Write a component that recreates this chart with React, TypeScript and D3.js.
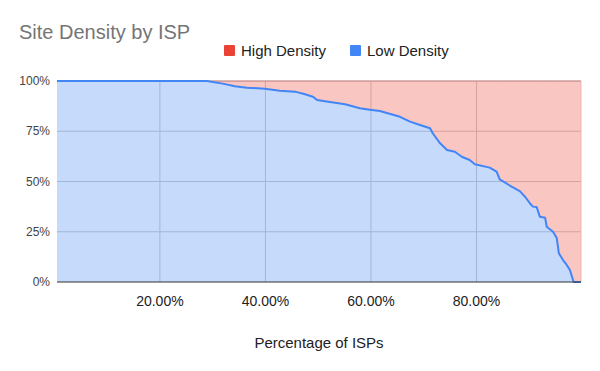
import { useEffect, useRef } from 'react'
import * as d3 from 'd3'

// share of ISPs (sorted) vs share of sites that are low density
const ispShare = [
  0.005, 0.289, 0.319, 0.342, 0.365, 0.399, 0.427, 0.456, 0.475, 0.490,
  0.498, 0.522, 0.551, 0.579, 0.598, 0.617, 0.655, 0.674, 0.693, 0.712,
  0.717, 0.731, 0.744, 0.759, 0.772, 0.787, 0.797, 0.825, 0.838, 0.844,
  0.863, 0.882, 0.892, 0.901, 0.907, 0.914, 0.920, 0.930, 0.933, 0.945,
  0.952, 0.956, 0.964, 0.971, 0.977, 0.984, 0.998,
]
const lowDensity = [
  1.000, 1.000, 0.987, 0.974, 0.967, 0.962, 0.952, 0.947, 0.934, 0.922,
  0.905, 0.896, 0.884, 0.864, 0.857, 0.851, 0.822, 0.798, 0.781, 0.765,
  0.740, 0.690, 0.657, 0.648, 0.623, 0.607, 0.586, 0.569, 0.549, 0.511,
  0.480, 0.452, 0.424, 0.392, 0.375, 0.373, 0.325, 0.320, 0.275, 0.250,
  0.219, 0.143, 0.109, 0.085, 0.060, 0.000, 0.000,
]
const xTicks = [0.2, 0.4, 0.6, 0.8]
const yTicks = [0, 0.25, 0.5, 0.75, 1]
const series = [
  { name: 'High Density', color: '#ea4335' },
  { name: 'Low Density', color: '#4285f4' },
]

const FONT = '"Liberation Sans", Arial, sans-serif'

export default function App() {
  const ref = useRef<SVGSVGElement>(null)

  useEffect(() => {
    const W = 600, H = 371
    const m = { top: 81, right: 19, bottom: 89, left: 57 }
    const iW = W - m.left - m.right
    const iH = H - m.top - m.bottom

    const svg = d3.select(ref.current)
    svg.selectAll('*').remove()
    svg.append('rect').attr('width', W).attr('height', H).attr('fill', '#fff')

    const data = ispShare.map((x, i) => ({ x, y: lowDensity[i] }))
    const x = d3.scaleLinear().domain(d3.extent(ispShare) as [number, number]).range([0, iW])
    const y = d3.scaleLinear().domain([0, 1]).range([iH, 0])

    const g = svg.append('g').attr('transform', `translate(${m.left},${m.top})`)

    // grid
    g.append('g').selectAll('line').data(yTicks.filter(t => t > 0)).join('line')
      .attr('x1', 0).attr('x2', iW).attr('y1', d => y(d)).attr('y2', d => y(d))
      .attr('stroke', '#cccccc')
    g.append('g').selectAll('line').data(xTicks).join('line')
      .attr('x1', d => x(d)).attr('x2', d => x(d)).attr('y1', 0).attr('y2', iH)
      .attr('stroke', '#cccccc')

    // stacked areas
    const lowArea = d3.area<{ x: number; y: number }>()
      .x(d => x(d.x)).y0(iH).y1(d => y(d.y))
    const highArea = d3.area<{ x: number; y: number }>()
      .x(d => x(d.x)).y0(d => y(d.y)).y1(y(1))
    g.append('path').datum(data).attr('d', highArea)
      .attr('fill', series[0].color).attr('fill-opacity', 0.3)
    g.append('path').datum(data).attr('d', lowArea)
      .attr('fill', series[1].color).attr('fill-opacity', 0.3)

    // series lines
    g.append('path').datum(data)
      .attr('d', d3.line<{ x: number; y: number }>().x(d => x(d.x)).y(() => y(1)))
      .attr('fill', 'none').attr('stroke', '#c98a8a').attr('stroke-width', 1)
    g.append('path').datum(data)
      .attr('d', d3.line<{ x: number; y: number }>().x(d => x(d.x)).y(d => y(d.y)))
      .attr('fill', 'none').attr('stroke', series[1].color).attr('stroke-width', 2)
      .attr('stroke-linejoin', 'round')

    // right edge of plot
    g.append('line').attr('x1', iW).attr('x2', iW).attr('y1', 0).attr('y2', iH)
      .attr('stroke', '#e6b8b5')

    // baseline
    g.append('line').attr('x1', 0).attr('x2', iW).attr('y1', iH).attr('y2', iH)
      .attr('stroke', '#333333')

    // tick labels
    g.append('g').selectAll('text').data(yTicks).join('text')
      .attr('x', -7).attr('y', d => y(d)).attr('dy', '0.35em')
      .attr('text-anchor', 'end').attr('fill', '#444444')
      .attr('font-size', 12).attr('font-family', FONT)
      .text(d => d3.format('.0%')(d))
    g.append('g').selectAll('text').data(xTicks).join('text')
      .attr('x', d => x(d)).attr('y', iH + 24)
      .attr('text-anchor', 'middle').attr('fill', '#222222')
      .attr('font-size', 14).attr('font-family', FONT)
      .text(d => d3.format('.2%')(d))

    // axis title
    svg.append('text')
      .attr('x', m.left + iW / 2).attr('y', 348)
      .attr('text-anchor', 'middle').attr('fill', '#222222')
      .attr('font-size', 15).attr('font-family', FONT)
      .text('Percentage of ISPs')

    // title
    svg.append('text')
      .attr('x', 19).attr('y', 39)
      .attr('fill', '#757575').attr('font-size', 20).attr('font-family', FONT)
      .text('Site Density by ISP')

    // legend
    const leg = svg.append('g').attr('transform', 'translate(224,45)')
    const items = leg.selectAll('g').data(series).join('g')
      .attr('transform', (_, i) => `translate(${i * 126},0)`)
    items.append('rect').attr('width', 11).attr('height', 11).attr('rx', 1)
      .attr('fill', d => d.color)
    items.append('text').attr('x', 17).attr('y', 11)
      .attr('fill', '#222222').attr('font-size', 15).attr('font-family', FONT)
      .text(d => d.name)
  }, [])

  return (
    <svg ref={ref} width={600} height={371}
      style={{ position: 'absolute', left: 0, top: 0, display: 'block' }} />
  )
}
